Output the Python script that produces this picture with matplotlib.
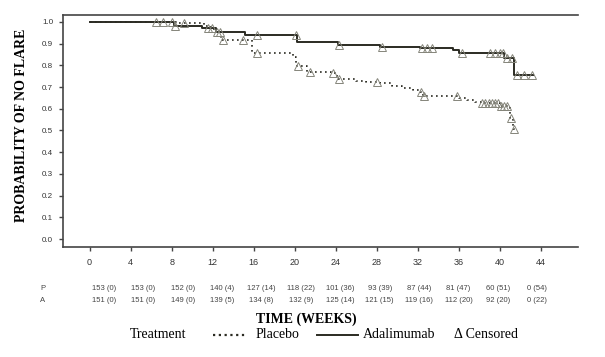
import numpy as np
import matplotlib
matplotlib.use("Agg")
import matplotlib.pyplot as plt
from matplotlib.lines import Line2D
import matplotlib.transforms as mtransforms

# Kaplan-Meier step data (weeks, probability of no flare)
ada_t = [0, 8.2, 11.0, 12.3, 15.2, 20.2, 24.2, 28.3, 32.2, 35.4, 36.0, 40.4, 41.4, 43.2]
ada_s = [1.0, 0.98, 0.97, 0.952, 0.94, 0.906, 0.894, 0.886, 0.879, 0.87, 0.859, 0.833, 0.756, 0.756]

pla_t = [0, 8.6, 11.2, 11.8, 12.3, 12.8, 15.8, 19.8, 20.1, 21.2, 23.5, 24.1, 26.0, 27.0,
         28.3, 29.5, 30.5, 31.5, 32.2, 32.5, 36.0, 36.8, 37.6, 38.2, 40.0, 41.0, 41.3, 41.5]
pla_s = [1.0, 0.993, 0.98, 0.967, 0.954, 0.917, 0.857, 0.84, 0.797, 0.77, 0.764, 0.737, 0.73, 0.724,
         0.717, 0.705, 0.697, 0.687, 0.679, 0.659, 0.65, 0.64, 0.63, 0.625, 0.615, 0.558, 0.507, 0.507]

# censoring times
ada_cens = [8.3, 11.5, 11.9, 12.4, 12.7, 16.3, 20.1, 24.3, 28.5, 32.4, 32.9, 33.4, 36.3,
            39.0, 39.5, 40.0, 40.3, 40.7, 41.2, 41.7, 42.4, 43.1]
pla_cens = [6.5, 7.2, 8.0, 9.2, 13.0, 15.0, 16.3, 20.3, 21.5, 23.7, 24.3, 28.0, 32.3, 32.6,
            35.8, 38.3, 38.6, 38.9, 39.2, 39.5, 39.8, 40.1, 40.4, 40.7, 41.05, 41.35]

# number at risk (events)
weeks = [0, 4, 8, 12, 16, 20, 24, 28, 32, 36, 40, 44]
risk_p = ["153 (0)", "153 (0)", "152 (0)", "140 (4)", "127 (14)", "118 (22)", "101 (36)",
          "93 (39)", "87 (44)", "81 (47)", "60 (51)", "0 (54)"]
risk_a = ["151 (0)", "151 (0)", "149 (0)", "139 (5)", "134 (8)", "132 (9)", "125 (14)",
          "121 (15)", "119 (16)", "112 (20)", "92 (20)", "0 (22)"]
yticks = [0.0, 0.1, 0.2, 0.3, 0.4, 0.5, 0.6, 0.7, 0.8, 0.9, 1.0]


def surv_at(times, t_steps, s_steps):
    idx = np.searchsorted(t_steps, times, side="right") - 1
    return np.array(s_steps)[idx]


line_col = "#2b2b22"
cens_col = "#85857a"
serif = "Liberation Serif"
sans = "Liberation Sans"

fig = plt.figure(figsize=(6.05, 3.57), dpi=100)
ax = fig.add_axes([0.104, 0.308, 0.851, 0.650])

ax.step(ada_t, ada_s, where="post", color=line_col, lw=1.4)
ax.step(pla_t, pla_s, where="post", color=line_col, lw=1.2, linestyle=(0, (1, 2)))
ax.plot(ada_cens, surv_at(ada_cens, ada_t, ada_s), linestyle="none", marker="^",
        markersize=5.2, markerfacecolor="none", markeredgecolor=cens_col, markeredgewidth=0.7)
ax.plot(pla_cens, surv_at(pla_cens, pla_t, pla_s), linestyle="none", marker="^",
        markersize=5.2, markerfacecolor="none", markeredgecolor=cens_col, markeredgewidth=0.7)

ax.set_xlim(-2.6, 47.6)
ax.set_ylim(-0.037, 1.032)
ax.set_xticks(weeks)
ax.set_xticklabels([str(w) for w in weeks], fontfamily=sans, fontsize=6.5, color="#333")
ax.set_yticks(yticks)
ax.set_yticklabels(["%.1f" % v for v in yticks], fontfamily=sans, fontsize=5.8, color="#333")
ax.tick_params(axis="both", direction="out", length=3, width=1, color="#444")
ax.tick_params(axis="x", pad=5)
ax.tick_params(axis="y", pad=4)
ax.spines["right"].set_visible(False)
for s in ["left", "bottom", "top"]:
    ax.spines[s].set_color("#444")
    ax.spines[s].set_linewidth(1.2)

ax.set_ylabel("PROBABILITY OF NO FLARE", fontfamily=serif, fontweight="bold", fontsize=10)
ax.yaxis.set_label_coords(-0.068, 0.526)

# number at risk table
trans = mtransforms.blended_transform_factory(ax.transData, fig.transFigure)
for w, p, a in zip(weeks, risk_p, risk_a):
    xpos = w * 0.96 + 1.4
    fig.text(xpos, 1 - 289 / 357, p, transform=trans, ha="center", va="center",
             fontfamily=sans, fontsize=5.5, color="#444")
    fig.text(xpos, 1 - 301 / 357, a, transform=trans, ha="center", va="center",
             fontfamily=sans, fontsize=5.5, color="#444")
fig.text(43 / 605, 1 - 289 / 357, "P", ha="center", va="center", fontfamily=sans, fontsize=5.5, color="#444")
fig.text(43 / 605, 1 - 301 / 357, "A", ha="center", va="center", fontfamily=sans, fontsize=5.5, color="#444")

fig.text(306 / 605, 1 - 319 / 357, "TIME (WEEKS)", ha="center", va="center",
         fontfamily=serif, fontweight="bold", fontsize=10)

# legend row
ly = 1 - 335 / 357
fig.text(130 / 605, ly, "Treatment", ha="left", va="center", fontfamily=serif, fontsize=10)
fig.add_artist(Line2D([213 / 605, 245 / 605], [ly, ly], transform=fig.transFigure,
                      color=line_col, lw=1.6, linestyle=(0, (1, 1.6))))
fig.text(256 / 605, ly, "Placebo", ha="left", va="center", fontfamily=serif, fontsize=10)
fig.add_artist(Line2D([317 / 605, 358 / 605], [ly, ly], transform=fig.transFigure,
                      color=line_col, lw=1.4))
fig.text(363 / 605, ly, "Adalimumab", ha="left", va="center", fontfamily=serif, fontsize=10)
fig.text(454 / 605, ly, "\u0394 Censored", ha="left", va="center", fontfamily=serif, fontsize=10)

fig.savefig("out.png", dpi=100)
